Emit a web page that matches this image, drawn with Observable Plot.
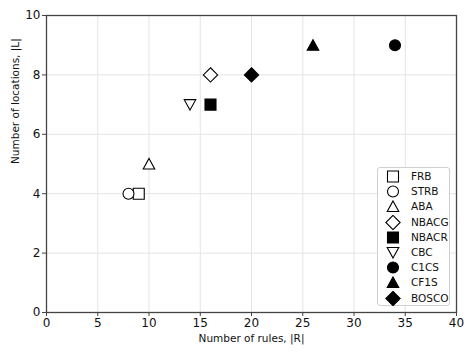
<!DOCTYPE html>
<html>
<head>
<meta charset="utf-8">
<script src="https://cdn.jsdelivr.net/npm/d3@7"></script>
<script src="https://cdn.jsdelivr.net/npm/@observablehq/plot@0.6"></script>
<style>
  body { margin: 0; background: #fff; }
  #wrap { position: relative; width: 474px; height: 355px; font-family: "DejaVu Sans", sans-serif; }
  #legend { position: absolute; left: 377px; top: 167px; width: 73px; height: 139px;
    border: 1px solid #d0d0d0; border-radius: 3px; background: rgba(255,255,255,0.9); box-sizing: border-box; }
  .row { position: absolute; left: 0; height: 15px; width: 100%; }
  .row svg { position: absolute; left: 6px; top: 0; }
  .row span { position: absolute; left: 33px; top: 0; line-height: 15px; font-size: 10.5px; color: #111; }
</style>
</head>
<body>
<div id="wrap"></div>
<script>
const names     = ["FRB", "STRB", "ABA", "NBACG", "NBACR", "CBC", "C1CS", "CF1S", "BOSCO"];
const rules     = [9, 8, 10, 16, 16, 14, 34, 26, 20];
const locations = [4, 4, 5, 8, 7, 7, 9, 9, 8];
const shapes    = ["square", "circle", "triangleUp", "diamond", "square", "triangleDown", "circle", "triangleUp", "diamond"];
const filled    = [false, false, false, false, true, false, true, true, true];
const xTicks = [0, 5, 10, 15, 20, 25, 30, 35, 40];
const yTicks = [0, 2, 4, 6, 8, 10];

// custom symbols: size = PI r^2 -> r
const R = s => Math.sqrt(s / Math.PI);
const SYM = {
  square: {draw(c, s) { const r = R(s); c.rect(-r, -r, 2 * r, 2 * r); }},
  circle: {draw(c, s) { const r = R(s); c.moveTo(r, 0); c.arc(0, 0, r, 0, 2 * Math.PI); }},
  triangleUp: {draw(c, s) { const r = R(s); c.moveTo(0, -r); c.lineTo(r * 1.05, r * 0.9); c.lineTo(-r * 1.05, r * 0.9); c.closePath(); }},
  triangleDown: {draw(c, s) { const r = R(s); c.moveTo(0, r); c.lineTo(r * 1.05, -r * 0.9); c.lineTo(-r * 1.05, -r * 0.9); c.closePath(); }},
  diamond: {draw(c, s) { const r = R(s) * 1.3; c.moveTo(0, -r); c.lineTo(r, 0); c.lineTo(0, r); c.lineTo(-r, 0); c.closePath(); }}
};

const data = names.map((n, i) => ({name: n, x: rules[i], y: locations[i], shape: shapes[i], filled: filled[i]}));

const chart = Plot.plot({
  width: 474, height: 355,
  marginLeft: 46, marginRight: 18, marginTop: 15, marginBottom: 43,
  style: {fontFamily: "DejaVu Sans, sans-serif", fontSize: "12px", color: "#111", background: "#fff"},
  x: {domain: [0, 40]},
  y: {domain: [0, 10]},
  marks: [
    Plot.gridX(xTicks, {stroke: "#e4e4e4", strokeOpacity: 1}),
    Plot.gridY(yTicks, {stroke: "#e4e4e4", strokeOpacity: 1}),
    Plot.axisX(xTicks, {tickSize: 4, tickPadding: 2, label: null, stroke: "#444", fontSize: 12}),
    Plot.axisY(yTicks, {tickSize: 4, tickPadding: 2, label: null, stroke: "#444", fontSize: 12}),
    Plot.frame({stroke: "#444", strokeWidth: 1.3}),
    ...data.map(d => Plot.dot([d], {
      x: "x", y: "y", r: 5.5,
      symbol: SYM[d.shape],
      fill: d.filled ? "#000" : "#fff",
      stroke: "#000", strokeWidth: 1.1
    })),
    Plot.text(["Number of rules, |R|"], {frameAnchor: "bottom", dy: 29, text: d => d, fontSize: 10.5, fill: "#111"}),
    Plot.text(["Number of locations, |L|"], {frameAnchor: "left", dx: -31, rotate: -90, text: d => d, fontSize: 10.5, fill: "#111"})
  ]
});

const wrap = document.getElementById("wrap");
wrap.appendChild(chart);

// legend
const legend = document.createElement("div");
legend.id = "legend";
data.forEach((d, i) => {
  const row = document.createElement("div");
  row.className = "row";
  row.style.top = (1 + i * 15.2) + "px";
  const svg = d3.create("svg").attr("width", 20).attr("height", 15);
  svg.append("path")
    .attr("transform", "translate(9,7.5)")
    .attr("d", d3.symbol(SYM[d.shape], Math.PI * 5.5 * 5.5)())
    .attr("fill", d.filled ? "#000" : "#fff")
    .attr("stroke", "#000").attr("stroke-width", 1.1);
  row.appendChild(svg.node());
  const span = document.createElement("span");
  span.textContent = d.name;
  row.appendChild(span);
  legend.appendChild(row);
});
wrap.appendChild(legend);
</script>
</body>
</html>
